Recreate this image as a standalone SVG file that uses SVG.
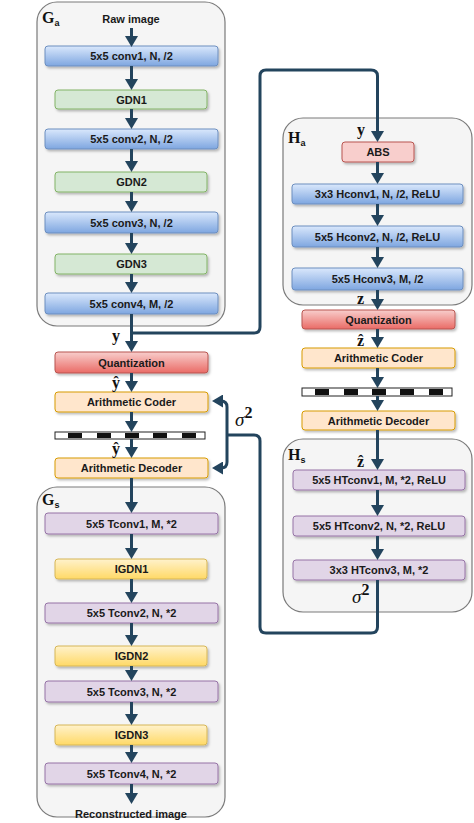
<svg xmlns="http://www.w3.org/2000/svg" width="474" height="823" viewBox="0 0 474 823">
<defs>
<linearGradient id="gBlue" x1="0" y1="0" x2="0" y2="1"><stop offset="0" stop-color="#dae8fc"/><stop offset="1" stop-color="#7ea6e0"/></linearGradient>
<linearGradient id="gRed" x1="0" y1="0" x2="0" y2="1"><stop offset="0" stop-color="#f8cecc"/><stop offset="1" stop-color="#ea6b66"/></linearGradient>
<linearGradient id="gYel" x1="0" y1="0" x2="0" y2="1"><stop offset="0" stop-color="#fff2cc"/><stop offset="1" stop-color="#ffd966"/></linearGradient>
<filter id="sh" x="-10%" y="-30%" width="120%" height="170%"><feDropShadow dx="1.5" dy="2" stdDeviation="1" flood-color="#000" flood-opacity="0.25"/></filter>
<marker id="ah" markerUnits="userSpaceOnUse" markerWidth="11" markerHeight="13" viewBox="0 0 11 13" refX="8" refY="6.5" orient="auto"><path d="M0,0 L11,6.5 L0,13 z" fill="#23445d"/></marker>
</defs>
<style>
.cont{fill:#f5f5f5;stroke:#7a7a7a;stroke-width:1.2}
.b{stroke-width:1;filter:url(#sh)}
.blue{fill:url(#gBlue);stroke:#6c8ebf}
.green{fill:#d5e8d4;stroke:#82b366}
.red{fill:url(#gRed);stroke:#b85450}
.pink{fill:#f8cecc;stroke:#b85450}
.ora{fill:#ffe6cc;stroke:#d79b00}
.yel{fill:url(#gYel);stroke:#d6b656}
.pur{fill:#e1d5e7;stroke:#9673a6}
.t{font-family:"Liberation Sans",Arial,sans-serif;font-weight:bold;font-size:11px;fill:#1a1a1a;text-anchor:middle}
.m{font-family:"Liberation Serif","DejaVu Serif",serif;font-weight:bold;font-size:16px;fill:#111}
.ms{font-family:"Liberation Sans",Arial,sans-serif;font-weight:bold;font-size:9px;fill:#111}
.sg{font-family:"Liberation Serif","DejaVu Serif",serif;font-style:italic;font-size:19px;fill:#111}
.a{fill:none;stroke:#23445d;stroke-width:3}
.ar{fill:none;stroke:#23445d;stroke-width:3;marker-end:url(#ah)}
.bar{fill:#fff;stroke:#222;stroke-width:1}
.dash{fill:#111}
</style>

<g id="Ga">
<rect class="cont" x="37" y="2" width="188" height="324" rx="20"/>
<text x="42" y="23" class="m">G<tspan class="ms" dy="3">a</tspan></text>
<text x="131" y="23" class="t">Raw image</text>
</g>
<g id="conv1"><rect class="b blue" x="45" y="46" width="173" height="20" rx="3"/><text x="131.5" y="60" class="t">5x5 conv1, N, /2</text></g>
<g id="gdn1"><rect class="b green" x="55" y="90" width="152" height="19" rx="3"/><text x="131.5" y="103.5" class="t">GDN1</text></g>
<g id="conv2"><rect class="b blue" x="45" y="129" width="173" height="20" rx="3"/><text x="131.5" y="143" class="t">5x5 conv2, N, /2</text></g>
<g id="gdn2"><rect class="b green" x="55" y="172" width="152" height="20" rx="3"/><text x="131.5" y="186" class="t">GDN2</text></g>
<g id="conv3"><rect class="b blue" x="45" y="212" width="173" height="21" rx="3"/><text x="131.5" y="226.5" class="t">5x5 conv3, N, /2</text></g>
<g id="gdn3"><rect class="b green" x="55" y="254" width="152" height="20" rx="3"/><text x="131.5" y="268" class="t">GDN3</text></g>
<g id="conv4"><rect class="b blue" x="45" y="293" width="173" height="21" rx="3"/><text x="131.5" y="307.5" class="t">5x5 conv4, M, /2</text></g>

<g id="quantL"><rect class="b red" x="55" y="352" width="153" height="21" rx="3"/><text x="131.5" y="366.5" class="t">Quantization</text></g>
<g id="acL"><rect class="b ora" x="55" y="392" width="153" height="20" rx="3"/><text x="131.5" y="406" class="t">Arithmetic Coder</text></g>
<g id="barL"><rect class="bar" x="55" y="432" width="150" height="7"/>
<rect class="dash" x="68" y="433" width="14" height="5"/><rect class="dash" x="97" y="433" width="14" height="5"/><rect class="dash" x="125" y="433" width="14" height="5"/><rect class="dash" x="153" y="433" width="14" height="5"/><rect class="dash" x="182" y="433" width="14" height="5"/></g>
<g id="adL"><rect class="b ora" x="55" y="458" width="153" height="20" rx="3"/><text x="131.5" y="472" class="t">Arithmetic Decoder</text></g>

<g id="Gs">
<rect class="cont" x="37" y="487" width="188" height="330" rx="20"/>
<text x="42" y="505" class="m">G<tspan class="ms" dy="3">s</tspan></text>
<text x="131" y="818" class="t">Reconstructed image</text>
</g>
<g id="tconv1"><rect class="b pur" x="45" y="513" width="173" height="21" rx="3"/><text x="131.5" y="527.5" class="t">5x5 Tconv1, M, *2</text></g>
<g id="igdn1"><rect class="b yel" x="55" y="559" width="152" height="20" rx="3"/><text x="131.5" y="573" class="t">IGDN1</text></g>
<g id="tconv2"><rect class="b pur" x="45" y="603" width="173" height="20" rx="3"/><text x="131.5" y="617" class="t">5x5 Tconv2, N, *2</text></g>
<g id="igdn2"><rect class="b yel" x="55" y="646" width="152" height="20" rx="3"/><text x="131.5" y="660" class="t">IGDN2</text></g>
<g id="tconv3"><rect class="b pur" x="45" y="681" width="173" height="21" rx="3"/><text x="131.5" y="695.5" class="t">5x5 Tconv3, N, *2</text></g>
<g id="igdn3"><rect class="b yel" x="55" y="725" width="152" height="20" rx="3"/><text x="131.5" y="739" class="t">IGDN3</text></g>
<g id="tconv4"><rect class="b pur" x="45" y="763" width="173" height="21" rx="3"/><text x="131.5" y="777.5" class="t">5x5 Tconv4, N, *2</text></g>

<g id="Ha">
<rect class="cont" x="283" y="118" width="189" height="187" rx="20"/>
<text x="288" y="143" class="m">H<tspan class="ms" dy="3">a</tspan></text>
</g>
<g id="abs"><rect class="b pink" x="342" y="142" width="72" height="20" rx="3"/><text x="378" y="156" class="t">ABS</text></g>
<g id="hconv1"><rect class="b blue" x="292" y="184" width="171" height="20" rx="3"/><text x="377.5" y="198" class="t">3x3 Hconv1, N, /2, ReLU</text></g>
<g id="hconv2"><rect class="b blue" x="292" y="226" width="171" height="21" rx="3"/><text x="377.5" y="240.5" class="t">5x5 Hconv2, N, /2, ReLU</text></g>
<g id="hconv3"><rect class="b blue" x="292" y="268" width="171" height="22" rx="3"/><text x="377.5" y="283" class="t">5x5 Hconv3, M, /2</text></g>

<g id="quantR"><rect class="b red" x="302" y="310" width="153" height="19" rx="3"/><text x="378.5" y="323.5" class="t">Quantization</text></g>
<g id="acR"><rect class="b ora" x="302" y="348" width="153" height="20" rx="3"/><text x="378.5" y="362" class="t">Arithmetic Coder</text></g>
<g id="barR"><rect class="bar" x="302" y="388" width="150" height="8"/>
<rect class="dash" x="315" y="389" width="14" height="6"/><rect class="dash" x="344" y="389" width="14" height="6"/><rect class="dash" x="372" y="389" width="14" height="6"/><rect class="dash" x="400" y="389" width="14" height="6"/><rect class="dash" x="429" y="389" width="14" height="6"/></g>
<g id="adR"><rect class="b ora" x="302" y="411" width="153" height="19" rx="3"/><text x="378.5" y="424.5" class="t">Arithmetic Decoder</text></g>

<g id="Hs">
<rect class="cont" x="283" y="439" width="189" height="173" rx="20"/>
<text x="288" y="460" class="m">H<tspan class="ms" dy="3">s</tspan></text>
</g>
<g id="htconv1"><rect class="b pur" x="293" y="470" width="172" height="20" rx="3"/><text x="379" y="484" class="t">5x5 HTconv1, M, *2, ReLU</text></g>
<g id="htconv2"><rect class="b pur" x="293" y="516" width="172" height="20" rx="3"/><text x="379" y="530" class="t">5x5 HTconv2, N, *2, ReLU</text></g>
<g id="htconv3"><rect class="b pur" x="293" y="560" width="172" height="20" rx="3"/><text x="379" y="574" class="t">3x3 HTconv3, M, *2</text></g>

<g id="connectors">
<path class="ar" d="M131.5,28 V44"/>
<path class="ar" d="M131.5,66 V87"/>
<path class="ar" d="M131.5,109 V126"/>
<path class="ar" d="M131.5,149 V169"/>
<path class="ar" d="M131.5,192 V209"/>
<path class="ar" d="M131.5,233 V251"/>
<path class="ar" d="M131.5,274 V290"/>
<path class="ar" d="M131.5,314 V349"/>
<path class="ar" d="M131.5,373 V389"/>
<path class="ar" d="M131.5,412 V429"/>
<path class="ar" d="M131.5,439 V455"/>
<path class="ar" d="M131.5,478 V510"/>
<path class="ar" d="M131.5,534 V556"/>
<path class="ar" d="M131.5,579 V600"/>
<path class="ar" d="M131.5,623 V643"/>
<path class="ar" d="M131.5,666 V678"/>
<path class="ar" d="M131.5,702 V722"/>
<path class="ar" d="M131.5,745 V760"/>
<path class="ar" d="M131.5,784 V801"/>
<path class="ar" d="M131.5,333 H254 Q260,333 260,327 V76 Q260,70 266,70 H371 Q377.5,70 377.5,76 V139"/>
<path class="ar" d="M377.5,162 V181"/>
<path class="ar" d="M377.5,204 V223"/>
<path class="ar" d="M377.5,247 V265"/>
<path class="ar" d="M377.5,290 V307"/>
<path class="ar" d="M377.5,329 V345"/>
<path class="ar" d="M377.5,368 V385"/>
<path class="ar" d="M377.5,396 V408"/>
<path class="ar" d="M377.5,430 V467"/>
<path class="ar" d="M377.5,490 V513"/>
<path class="ar" d="M377.5,536 V557"/>
<path class="a" d="M377.5,580 V627 Q377.5,633 371,633 H266 Q260,633 260,627 V441 Q260,435 254,435 H227"/>
<path class="ar" d="M227,435 V407 Q227,401 221,401 H215"/>
<path class="ar" d="M227,435 V462 Q227,468 221,468 H215"/>
</g>

<g id="labels">
<text x="112" y="341" class="m">y</text>
<text x="112" y="388" class="m">ŷ</text>
<text x="112" y="454" class="m">ŷ</text>
<text x="357" y="135" class="m">y</text>
<text x="357" y="304" class="m">z</text>
<text x="357" y="346" class="m">ẑ</text>
<text x="357" y="467" class="m">ẑ</text>
<text x="235" y="426" class="sg">σ<tspan class="m" font-style="normal" font-size="11" dy="-8">2</tspan></text>
<text x="352" y="603" class="sg">σ<tspan class="m" font-style="normal" font-size="11" dy="-8">2</tspan></text>
</g>
</svg>
